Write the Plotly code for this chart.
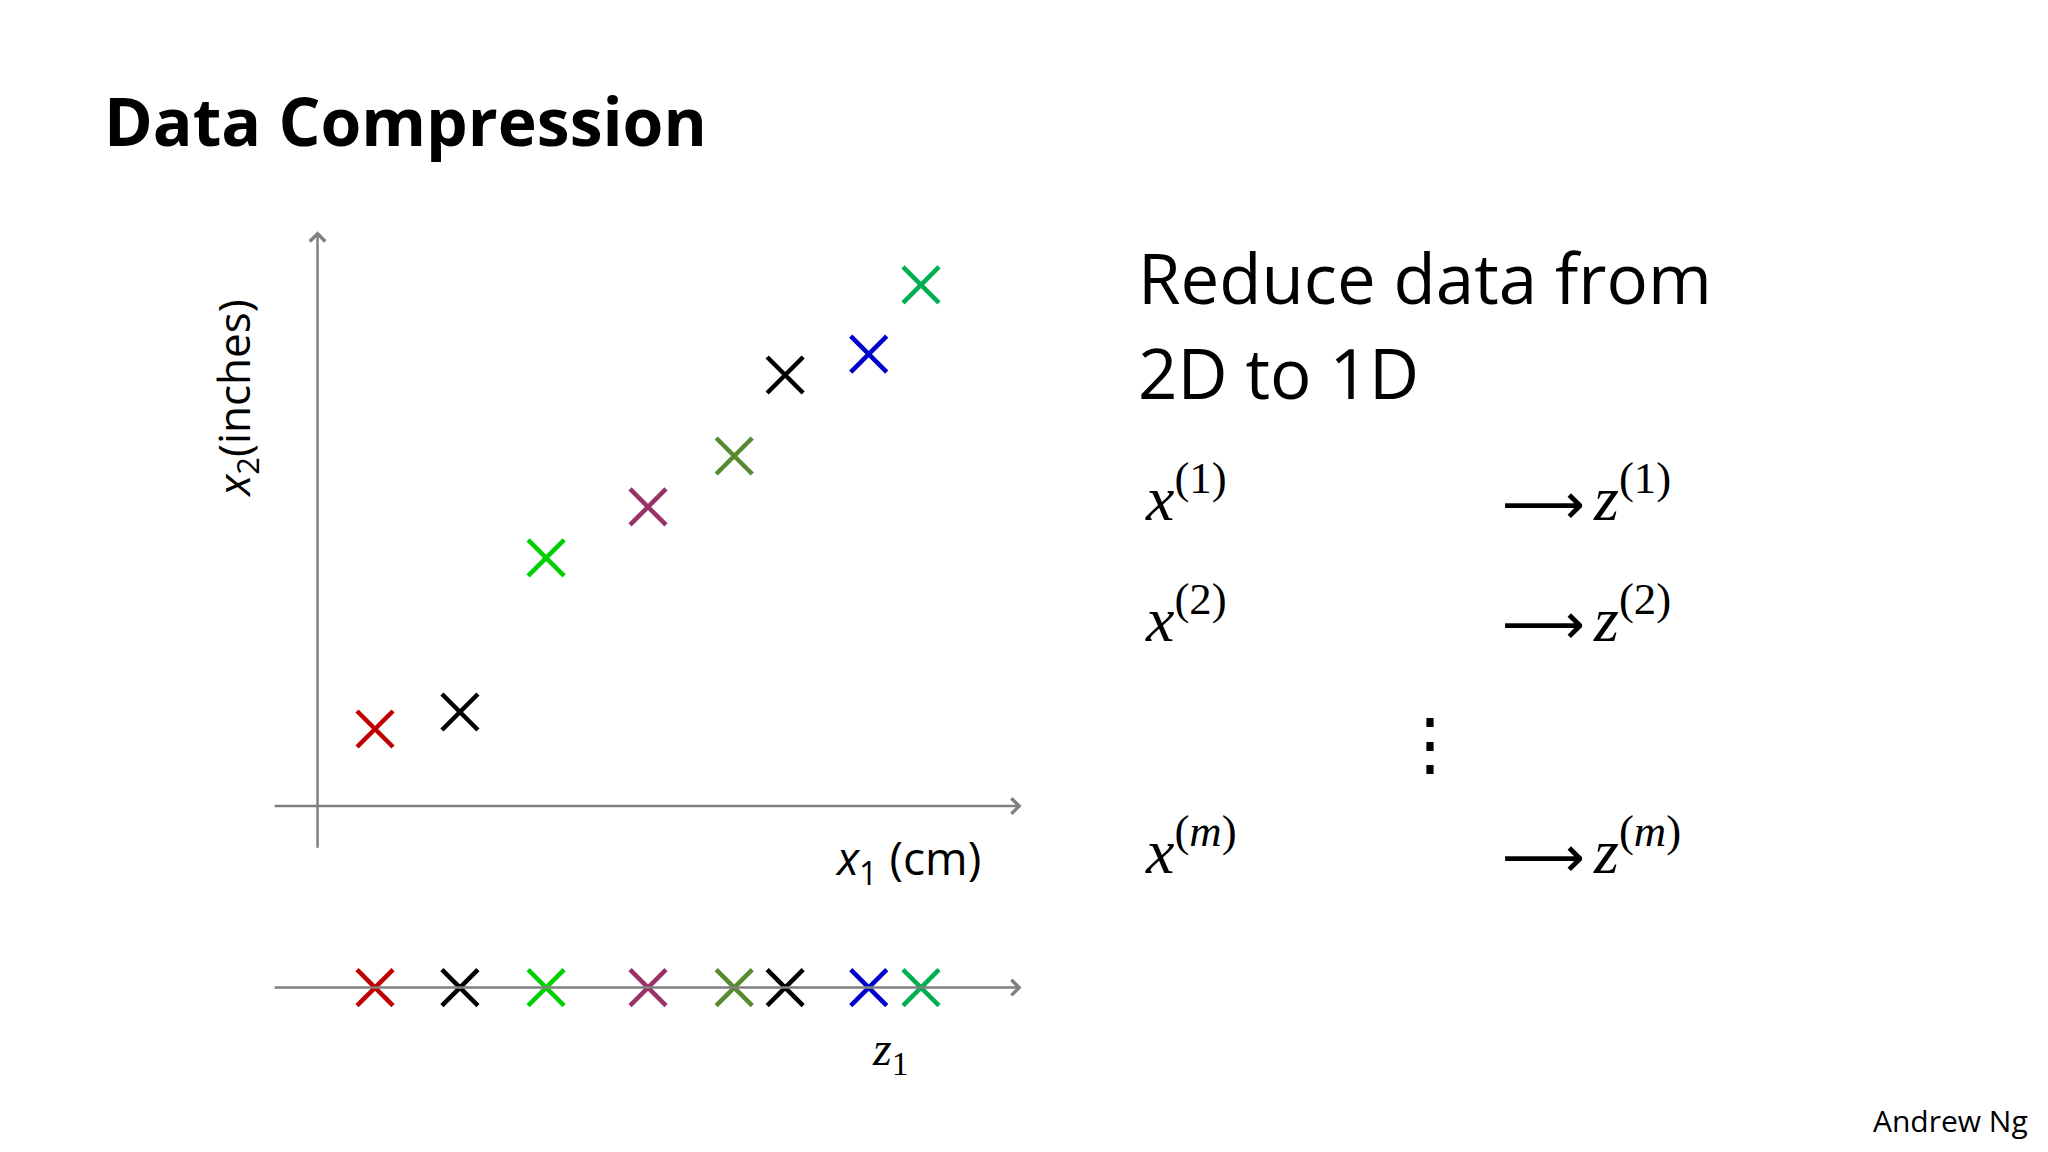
import plotly.graph_objects as go

# sample points (x1 in cm, x2 in inches, arbitrary units)
x1 = [4.4, 10.9, 17.5, 25.3, 31.9, 35.8, 42.2, 46.2]
x2 = [5.9, 7.2, 19.0, 22.9, 26.8, 33.0, 34.6, 39.9]
colors = ["#c00000", "#000000", "#00d000", "#993366", "#5a8a30", "#000000", "#0000cc", "#00b050"]

W, H = 1568.0, 882.0  # reference layout units


def px(x):
    return (x - 6) / W


def py(y):
    return 1 - (y - 6) / H


fig = go.Figure()

fig.add_trace(go.Scatter(
    x=x1, y=x2, mode="markers", xaxis="x", yaxis="y",
    marker=dict(symbol="x-thin", size=36, color=colors, line=dict(width=4.5, color=colors)),
    hoverinfo="skip",
))
# projection onto z1
fig.add_trace(go.Scatter(
    x=x1, y=[0] * len(x1), mode="markers", xaxis="x2", yaxis="y2",
    marker=dict(symbol="x-thin", size=36, color=colors, line=dict(width=4.5, color=colors)),
    hoverinfo="skip",
))

axis_off = dict(showgrid=False, zeroline=False, showticklabels=False, showline=False, fixedrange=True)
fig.update_layout(
    width=2048, height=1152,
    margin=dict(l=0, r=0, t=0, b=0),
    paper_bgcolor="white", plot_bgcolor="rgba(0,0,0,0)",
    showlegend=False,
    xaxis=dict(domain=[px(209), px(782)], range=[-3.4, 53.9], **axis_off),
    yaxis=dict(domain=[py(650), py(177)], range=[-3.3, 44.0], **axis_off),
    xaxis2=dict(domain=[px(209), px(782)], range=[-3.4, 53.9], anchor="y2", **axis_off),
    yaxis2=dict(domain=[py(776), py(736)], range=[-1, 1], anchor="x2", **axis_off),
)

grey = "#808080"
arrows = [
    dict(x=53.9, y=0, ax=-3.4, ay=0, xref="x", yref="y", axref="x", ayref="y"),
    dict(x=0, y=44.0, ax=0, ay=-3.3, xref="x", yref="y", axref="x", ayref="y"),
    dict(x=53.9, y=0, ax=-3.4, ay=0, xref="x2", yref="y2", axref="x2", ayref="y2"),
]
for a in arrows:
    fig.add_annotation(text="", showarrow=True, arrowhead=4, arrowsize=1.2,
                       arrowwidth=2.5, arrowcolor=grey, **a)

serif = "Liberation Serif"
sans = "Open Sans"


def note(x, y, text, size, family=sans, anchor="left", **kw):
    fig.add_annotation(x=px(x), y=py(y), xref="paper", yref="paper", text=text,
                       showarrow=False, xanchor=anchor, yanchor="middle",
                       font=dict(family=family, size=size, color="black"), **kw)


note(78, 92, "<b>Data Compression</b>", 66)
note(870, 212, "Reduce data from", 69)
note(870, 285, "2D to 1D", 69)

note(180, 305, "<i>x</i><sub>2</sub>(inches)", 44, family=sans, textangle=-90, anchor="center")
note(638, 658, "<i>x</i><sub>1</sub> (cm)", 46)
note(666, 805, "<i>z</i><sub>1</sub>", 48, family=serif)

rows = [("1", 378), ("2", 470), ("m", 648)]
for s, y in rows:
    sup = s if s != "m" else "<i>m</i>"
    note(875, y, "<i>x</i><sup>(" + sup + ")</sup>", 64, family=serif)
    note(1148, y + 8, "⟶", 58, family="DejaVu Sans")
    note(1218, y, "<i>z</i><sup>(" + sup + ")</sup>", 64, family=serif)

note(1095, 570, "⋮", 70, family=serif, anchor="center")
note(1554, 858, "Andrew Ng", 30, anchor="right")

fig.write_html("out.html")
